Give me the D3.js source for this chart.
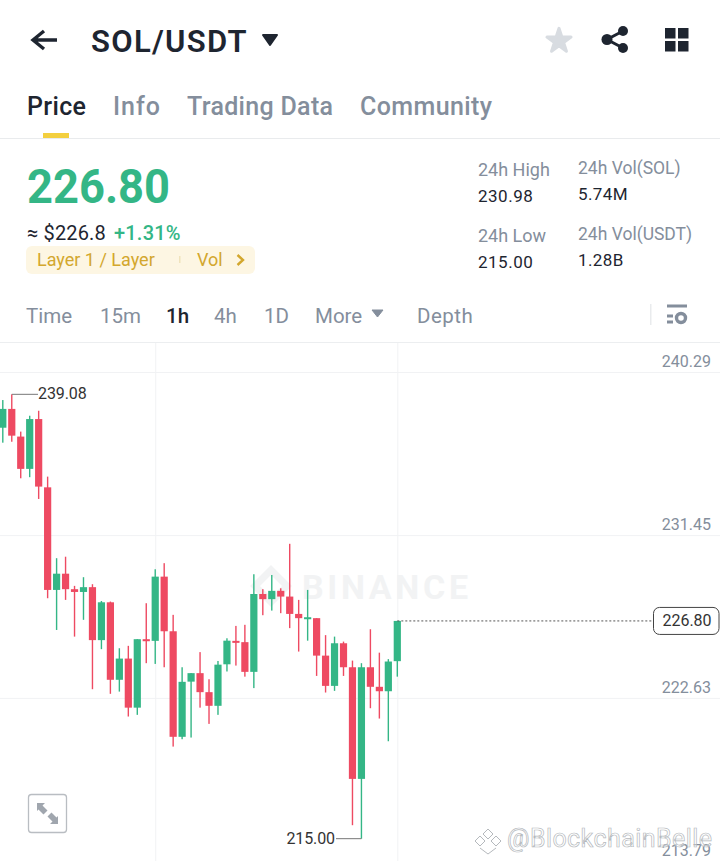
<!DOCTYPE html>
<html>
<head>
<meta charset="utf-8">
<script src="https://cdn.jsdelivr.net/npm/d3@7"></script>
<style>
  html, body { margin: 0; padding: 0; background: #fff; }
  svg { display: block; font-family: Roboto, sans-serif; }
</style>
</head>
<body>
<div id="chart"></div>
<script>
const opens = [237.27, 238.29, 236.79, 235.04, 237.74, 234.04, 228.48, 229.36, 228.52, 228.37, 228.63, 225.76, 227.81, 223.61, 224.76, 222.10, 225.81, 225.72, 229.20, 226.24, 220.52, 223.51, 223.97, 222.94, 222.20, 224.45, 225.72, 225.65, 224.04, 228.26, 227.98, 228.43, 228.12, 227.18, 226.93, 226.95, 224.92, 223.28, 225.59, 224.29, 218.24, 224.29, 223.23, 222.99, 224.62]
const highs = [238.77, 239.08, 237.06, 237.92, 238.19, 234.62, 230.20, 230.28, 228.70, 229.17, 228.79, 227.88, 227.85, 225.32, 225.45, 225.81, 227.76, 229.60, 229.93, 227.13, 224.29, 223.97, 225.11, 223.64, 224.63, 225.86, 226.53, 226.59, 229.33, 228.52, 229.29, 228.57, 230.98, 227.94, 228.48, 226.95, 226.03, 225.95, 225.68, 224.65, 224.51, 226.35, 225.08, 224.73, 226.80]
const lows = [236.46, 236.51, 234.53, 234.59, 233.41, 228.03, 226.31, 227.94, 225.95, 226.86, 223.10, 225.27, 222.85, 222.97, 221.62, 221.71, 224.51, 224.47, 224.29, 219.99, 220.39, 220.48, 222.10, 221.22, 221.71, 224.06, 224.38, 223.78, 223.16, 227.11, 227.36, 227.22, 226.41, 225.14, 225.73, 223.82, 222.92, 223.01, 223.82, 215.73, 215.00, 222.07, 221.51, 220.28, 223.78]
const closes = [238.29, 236.84, 235.04, 237.74, 234.08, 228.48, 229.36, 228.52, 228.37, 228.63, 225.76, 227.81, 223.61, 224.76, 222.10, 225.81, 225.70, 229.20, 226.24, 220.52, 223.50, 223.97, 222.94, 222.20, 224.43, 225.73, 225.65, 224.04, 228.26, 227.98, 228.43, 228.12, 227.18, 226.95, 227.00, 224.92, 223.28, 225.59, 224.29, 218.24, 224.29, 223.23, 222.99, 224.60, 226.80]
const priceTicks = [240.29, 231.45, 222.63, 213.79]
const timeTicks = [17, 44]
const lastPrice = 226.80
const periodHigh = 239.08
const periodLow = 215.00

const pageTabs = ['Price', 'Info', 'Trading Data', 'Community']
const intervals = ['Time', '15m', '1h', '4h', '1D', 'More', 'Depth']

const green = '#34B686'
const red = '#EE4A62'
const dark = '#1E2530'
const grey = '#848E9C'

const width = 720
const height = 861

const svg = d3.select('#chart').append('svg')
  .attr('width', width)
  .attr('height', height)

const text = (s, x, y, size, fill, weight, anchor) => svg.append('text')
  .attr('x', x)
  .attr('y', y)
  .attr('font-size', size)
  .attr('fill', fill)
  .attr('font-weight', weight || 400)
  .attr('text-anchor', anchor || 'start')
  .text(s)

// HEADER
svg.append('path')
  .attr('d', 'M57 40H34M44 31L33 40L44 49')
  .attr('fill', 'none')
  .attr('stroke', dark)
  .attr('stroke-width', 3.4)
text('SOL/USDT', 91, 52, 31, dark, 600).attr('letter-spacing', 1.3)
svg.append('path').attr('d', 'M263 35H277L270 45Z').attr('fill', dark).attr('stroke', dark).attr('stroke-width', 2).attr('stroke-linejoin', 'round')
svg.append('path')
  .attr('d', d3.symbol(d3.symbolStar, 180))
  .attr('transform', 'translate(559,41)')
  .attr('fill', '#D8DCE1')
  .attr('stroke', '#D8DCE1')
  .attr('stroke-width', 3)
  .attr('stroke-linejoin', 'round')
svg.append('path')
  .attr('d', 'M623 31L607 39.5L623 48')
  .attr('fill', 'none')
  .attr('stroke', dark)
  .attr('stroke-width', 3)
svg.selectAll('circle.share')
  .data([[623, 31, 5], [607, 39.5, 5.5], [623, 48, 5]])
  .enter().append('circle')
  .attr('class', 'share')
  .attr('cx', d => d[0])
  .attr('cy', d => d[1])
  .attr('r', d => d[2])
  .attr('fill', dark)
svg.selectAll('rect.grid')
  .data([[665, 28], [678, 28], [665, 41], [678, 41]])
  .enter().append('rect')
  .attr('class', 'grid')
  .attr('x', d => d[0])
  .attr('y', d => d[1])
  .attr('width', 10.5)
  .attr('height', 10.5)
  .attr('fill', dark)

// PAGE TABS
const tabX = [27, 113, 187, 360]
const tabWidth = [59, 47, 146, 132]
pageTabs.forEach((t, i) => {
  text(t, tabX[i], 115, 25, i === 0 ? dark : grey, 500)
    .attr('textLength', tabWidth[i])
})
svg.append('rect').attr('x', 43).attr('y', 133).attr('width', 26).attr('height', 5).attr('fill', '#F3CF3F')
svg.append('rect').attr('x', 0).attr('y', 138).attr('width', width).attr('height', 1).attr('fill', '#E9EBED')

// PRICE BLOCK
text('226.80', 27, 203, 49, green, 700)
  .attr('textLength', 143)
  .attr('lengthAdjust', 'spacingAndGlyphs')
text('≈ $226.8', 27, 240, 20, dark, 400).attr('letter-spacing', 0.15)
text('+1.31%', 114, 240, 20, green, 500).attr('letter-spacing', 0.2)
svg.append('rect').attr('x', 26).attr('y', 246).attr('width', 229).attr('height', 28).attr('rx', 6).attr('fill', '#FDF6E3')
text('Layer 1 / Layer', 37, 266, 18, '#D3A72E')
svg.append('rect').attr('x', 179).attr('y', 256).attr('width', 1.5).attr('height', 7).attr('fill', '#F0E3BC')
text('Vol', 197, 266, 18, '#D3A72E')
svg.append('path').attr('d', 'M237.5 255L243 260L237.5 265').attr('fill', 'none').attr('stroke', '#D3A72E').attr('stroke-width', 2.4)

text('24h High', 478, 176, 18, grey)
text('230.98', 478, 202, 17, dark).attr('letter-spacing', 0.5)
text('24h Low', 478, 242, 18, grey)
text('215.00', 478, 268, 17, dark).attr('letter-spacing', 0.5)
text('24h Vol(SOL)', 578, 174, 17.5, grey)
text('5.74M', 578, 200, 17, dark).attr('letter-spacing', 0.4)
text('24h Vol(USDT)', 578, 240, 17.5, grey)
text('1.28B', 578, 266, 17, dark).attr('letter-spacing', 0.4)

// INTERVALS
const intervalX = [26, 100, 166, 214, 264, 315, 417]
intervals.forEach((t, i) => {
  text(t, intervalX[i], 323, 20.5, t === '1h' ? dark : grey, t === '1h' ? 500 : 400)
})
svg.selectAll('text').filter(function () { return this.textContent === 'Depth' }).attr('letter-spacing', 0.5)
svg.append('path').attr('d', 'M372 310H383L377.5 317Z').attr('fill', grey).attr('stroke', grey).attr('stroke-linejoin', 'round')
svg.append('rect').attr('x', 650).attr('y', 304).attr('width', 1.5).attr('height', 21).attr('fill', '#E9EBED')
svg.append('path')
  .attr('d', 'M667 306H687M667 316H673M667 322H673')
  .attr('stroke', grey)
  .attr('stroke-width', 3)
svg.append('circle').attr('cx', 681).attr('cy', 318).attr('r', 4.5)
  .attr('fill', '#fff').attr('stroke', grey).attr('stroke-width', 3.4)

// CHART
const x = d3.scaleLinear().domain([0, 44]).range([2.8, 397.3])
const y = d3.scaleLinear().domain([213.79, 240.29]).range([861, 372])

svg.append('rect').attr('x', 0).attr('y', 342).attr('width', width).attr('height', 1).attr('fill', '#ECEEF0')

const xGrid = d3.axisTop(x).tickValues(timeTicks).tickSize(861 - 343).tickFormat('')
svg.append('g')
  .attr('class', 'x grid')
  .attr('transform', 'translate(0,861)')
  .call(xGrid)
  .call(g => g.select('.domain').remove())
  .call(g => g.selectAll('line').attr('stroke', '#F1F2F4'))

const yAxis = d3.axisRight(y).tickValues(priceTicks).tickSize(-width).tickFormat(d3.format('.2f'))
const yG = svg.append('g')
  .attr('class', 'y axis')
  .attr('transform', 'translate(' + width + ',0)')
  .call(yAxis)
yG.select('.domain').remove()
yG.selectAll('line').attr('stroke', '#F1F2F4')
yG.selectAll('text')
  .attr('x', -9)
  .attr('y', -11)
  .attr('text-anchor', 'end')
  .attr('font-family', 'Roboto, sans-serif')
  .attr('font-size', 16)
  .attr('fill', grey)

// exchange watermark sits under the candles
svg.append('text')
  .attr('x', 302)
  .attr('y', 599)
  .attr('font-size', 34)
  .attr('font-weight', 700)
  .attr('textLength', 166)
  .attr('fill', '#F2F3F4')
  .text('BINANCE')
svg.append('path')
  .attr('transform', 'translate(271,586)')
  .attr('d', 'M0 -16L16 0L0 16L-16 0Z')
  .attr('fill', 'none')
  .attr('stroke', '#F2F3F4')
  .attr('stroke-width', 7)

const candles = opens.map((o, i) => ({ i, o, h: highs[i], l: lows[i], c: closes[i] }))

const g = svg.selectAll('g.candle')
  .data(candles)
  .enter().append('g')
  .attr('class', 'candle')
  .attr('fill', d => d.c >= d.o ? green : red)
g.append('rect')
  .attr('x', d => x(d.i) - 0.7)
  .attr('width', 1.4)
  .attr('y', d => y(d.h))
  .attr('height', d => y(d.l) - y(d.h))
g.append('rect')
  .attr('x', d => x(d.i) - 3.6)
  .attr('width', 7.2)
  .attr('y', d => y(Math.max(d.o, d.c)))
  .attr('height', d => Math.max(y(Math.min(d.o, d.c)) - y(Math.max(d.o, d.c)), 2))

// high / low callouts
const hiIndex = highs.indexOf(periodHigh)
const loIndex = lows.indexOf(periodLow)
svg.append('line')
  .attr('x1', x(hiIndex)).attr('x2', 38)
  .attr('y1', y(periodHigh)).attr('y2', y(periodHigh))
  .attr('stroke', '#777')
text('239.08', 38, y(periodHigh) + 5, 16, '#333').attr('letter-spacing', -0.1)
svg.append('line')
  .attr('x1', 336).attr('x2', x(loIndex))
  .attr('y1', y(periodLow)).attr('y2', y(periodLow))
  .attr('stroke', '#777')
text('215.00', 335, y(periodLow) + 5.5, 16, '#333', 400, 'end').attr('letter-spacing', -0.1)

// last price
svg.append('line')
  .attr('x1', x(44)).attr('x2', 653)
  .attr('y1', y(lastPrice)).attr('y2', y(lastPrice))
  .attr('stroke', '#555')
  .attr('stroke-dasharray', '2,2')
svg.append('rect')
  .attr('x', 653.5).attr('y', y(lastPrice) - 13.5)
  .attr('width', 65.5).attr('height', 27).attr('rx', 6)
  .attr('fill', '#fff').attr('stroke', '#444')
text('226.80', 687, y(lastPrice) + 5.5, 16, '#333', 400, 'middle')

// expand button
svg.append('rect')
  .attr('x', 28.5).attr('y', 794.5).attr('width', 38).attr('height', 38).attr('rx', 3)
  .attr('fill', '#fff').attr('stroke', '#B9BDC2').attr('stroke-width', 1.3)
svg.append('path')
  .attr('d', 'M37 803H45L42.5 805.5L47.5 810.5L43.5 814.5L38.5 809.5L37 811ZM58 824H50L52.5 821.5L47.5 816.5L51.5 812.5L56.5 817.5L58 816Z')
  .attr('fill', '#A0A6AE')

// post watermark
svg.append('path')
  .attr('transform', 'translate(488,841)')
  .attr('d', 'M-13 0L-8 -5L-3 0L-8 5ZM3 0L8 -5L13 0L8 5ZM-5 -7L0 -12L5 -7L0 -2ZM-8 7L0 13L8 7')
  .attr('fill', '#fff')
  .attr('stroke', '#B5B9BD')
svg.append('text')
  .attr('x', 507)
  .attr('y', 847)
  .attr('font-size', 25)
  .attr('textLength', 205)
  .attr('fill', '#fff')
  .attr('fill-opacity', 0.4)
  .attr('stroke', '#B5B9BD')
  .attr('stroke-width', 0.7)
  .text('@BlockchainBelle')
</script>
</body>
</html>
